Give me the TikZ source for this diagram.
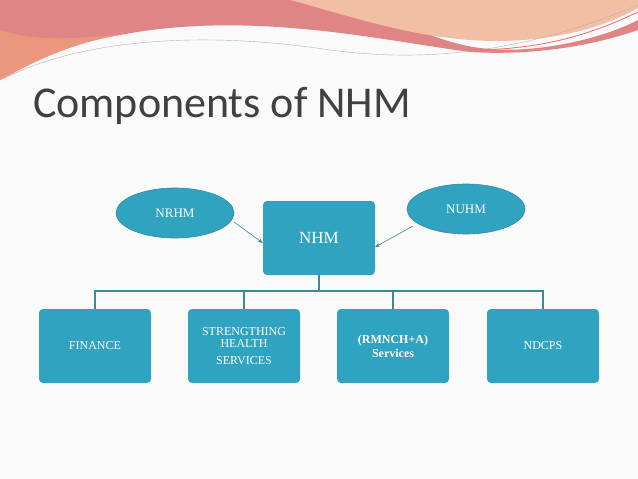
\documentclass[tikz,border=0pt]{standalone}
\usepackage{fontspec}
\setmainfont{Liberation Serif}
\newfontfamily\titlefont{Carlito}
\usetikzlibrary{shapes.geometric,arrows.meta}
\definecolor{teal1}{HTML}{2FA3C0}
\definecolor{line1}{HTML}{3A8A9C}
\definecolor{pinkA}{HTML}{E08585}
\definecolor{pinkB}{HTML}{F0A07A}
\definecolor{peach}{HTML}{F2BFA5}
\tikzset{
  box/.style={fill=teal1,rounded corners=4pt,minimum width=112pt,minimum height=74pt,text=white,align=center,font=\fontsize{12}{13}\selectfont,inner sep=0pt},
  oval/.style={ellipse,fill=teal1,draw=line1,line width=0.6pt,minimum width=118pt,minimum height=50pt,text=white,font=\fontsize{13}{15}\selectfont,inner sep=0pt},
  conn/.style={line1,line width=1.5pt},
  arr/.style={line1,line width=0.6pt,-{Stealth[length=5pt,width=4pt]}}
}
\begin{document}
\begin{tikzpicture}[x=1pt,y=-1pt]
\useasboundingbox (0,0) rectangle (638,479);
\fill[white!96!gray] (0,0) rectangle (638,479);
% top decoration
\fill[pinkA] (0,0) -- (290,0) .. controls (400,10) and (420,40) .. (480,48) .. controls (530,55) and (600,40) .. (638,20) -- (638,30) .. controls (580,50) and (520,55) .. (470,52) .. controls (380,40) and (250,10) .. (120,35) .. controls (60,45) and (20,70) .. (0,80) -- cycle;
\fill[pinkB,opacity=0.7] (0,30) .. controls (30,40) and (60,40) .. (120,35) .. controls (60,45) and (20,70) .. (0,80) -- cycle;
\fill[peach] (290,0) -- (638,0) -- (638,8) .. controls (600,30) and (540,45) .. (470,40) .. controls (400,35) and (330,10) .. (290,0) -- cycle;
\draw[gray!60,line width=0.4pt] (5,78) .. controls (80,40) and (200,30) .. (330,50) .. controls (420,62) and (520,55) .. (638,5);
\draw[red!60,line width=0.8pt] (470,50) .. controls (550,50) and (600,30) .. (638,12);
% title
\node[anchor=base west,inner sep=0pt,text=black!75,font=\titlefont\fontsize{44}{48}\selectfont] (title) at (33,117) {Components of NHM};
% nodes
\node[box,font=\fontsize{17}{19}\selectfont] (nhm) at (319,238) {NHM};
\node[oval] (nrhm) at (175,213) {NRHM};
\node[oval] (nuhm) at (466,209) {NUHM};
\node[box] (fin) at (95,346) {FINANCE};
\node[box,font=\fontsize{12}{12}\selectfont] (str) at (244,346) {STRENGTHING\\HEALTH\\[5pt]SERVICES};
\node[box,font=\bfseries\fontsize{12}{14}\selectfont] (rmn) at (393,346) {(RMNCH+A)\\Services};
\node[box] (ndc) at (543,346) {NDCPS};
\coordinate (bus) at (319,291);
\draw[conn] (nhm.south) -- (bus);
\draw[conn] (fin.north) |- (bus) -| (ndc.north);
\draw[conn] (str.north) -- (str.north |- bus);
\draw[conn] (rmn.north) -- (rmn.north |- bus);
\draw[arr] (234,222) -- (nhm.west |- 0,243);
\draw[arr] (413,226) -- (nhm.east |- 0,247);
\end{tikzpicture}
\end{document}
